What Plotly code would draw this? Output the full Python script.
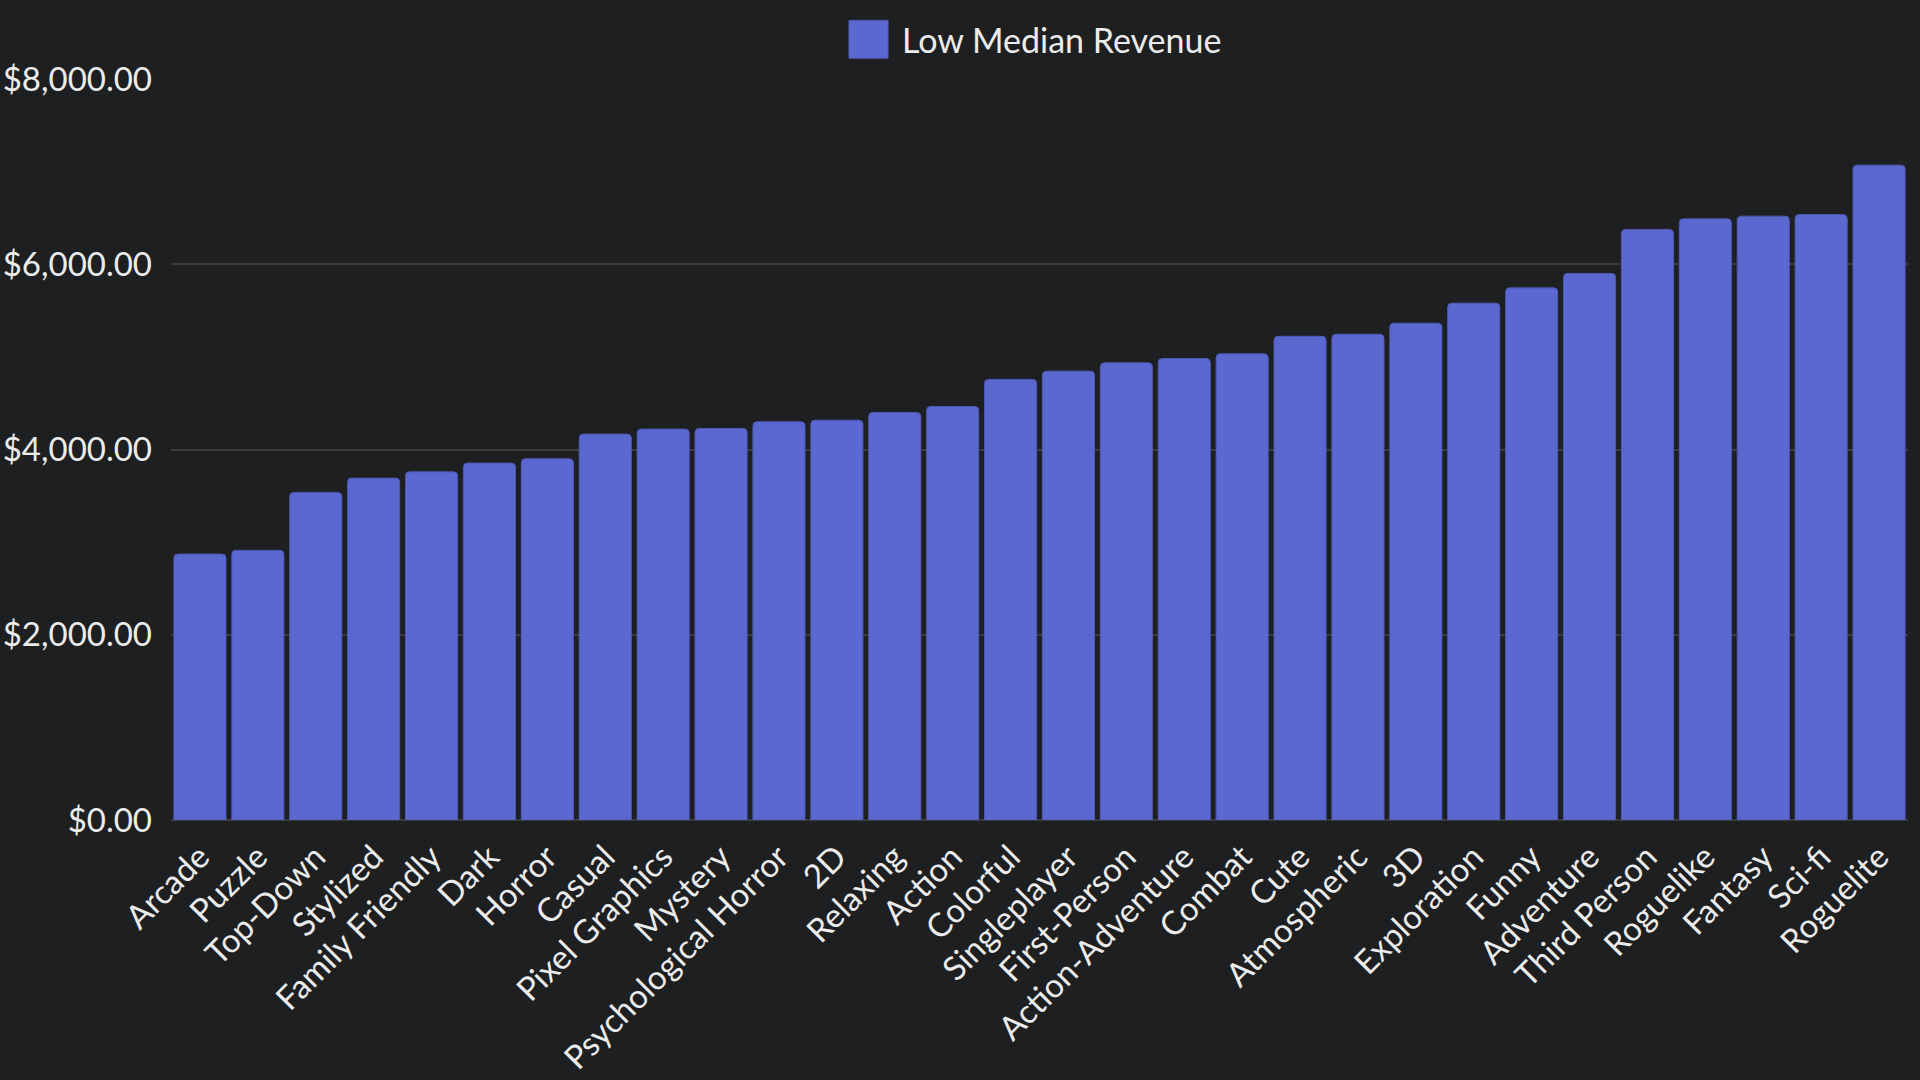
import plotly.graph_objects as go

# tags sorted by low median revenue
tags = ["Arcade", "Puzzle", "Top-Down", "Stylized", "Family Friendly", "Dark", "Horror",
        "Casual", "Pixel Graphics", "Mystery", "Psychological Horror", "2D", "Relaxing",
        "Action", "Colorful", "Singleplayer", "First-Person", "Action-Adventure", "Combat",
        "Cute", "Atmospheric", "3D", "Exploration", "Funny", "Adventure", "Third Person",
        "Roguelike", "Fantasy", "Sci-fi", "Roguelite"]
low_median_revenue = [2871, 2911, 3537, 3691, 3759, 3853, 3900,
                      4166, 4220, 4227, 4299, 4317, 4400,
                      4465, 4757, 4846, 4936, 4983, 5033,
                      5222, 5245, 5364, 5580, 5745, 5901, 6376,
                      6490, 6519, 6537, 7070]
series_name = "Low Median Revenue"

bg = "#1e1f21"
bar_col = "#5b68d0"
grid_col = "#3a3b3d"
txt = "#ececec"
font_family = "Lato, 'Noto Sans', sans-serif"

fig = go.Figure()
fig.add_trace(go.Bar(x=tags, y=low_median_revenue, name=series_name,
                     marker=dict(color=bar_col, line=dict(color="#4d58b4", width=1)),
                     showlegend=False))

# legend drawn by hand so the swatch can be big
fig.add_shape(type="rect", xref="paper", yref="paper",
              x0=0.3903, x1=0.4128, y0=1.0279, y1=1.0792,
              fillcolor=bar_col, line=dict(color="#4d58b4", width=1))
fig.add_annotation(text=series_name, xref="paper", yref="paper", x=0.4197, y=1.0536,
                   xanchor="left", yanchor="middle", showarrow=False,
                   font=dict(size=34, color=txt, family=font_family))

fig.update_layout(
    width=1920, height=1080,
    paper_bgcolor=bg, plot_bgcolor=bg,
    margin=dict(l=171, r=12, t=79, b=260),
    bargap=0.1, barcornerradius=4,
    font=dict(family=font_family, color=txt, size=32),
)
fig.update_xaxes(tickangle=-45, tickfont=dict(size=33), showgrid=False,
                 showline=False, ticks="", ticklabelstandoff=10, automargin=False)
fig.update_yaxes(range=[0, 8000], dtick=2000, tickprefix="$", tickformat=",.2f",
                 gridcolor=grid_col, gridwidth=1.5, zeroline=True, zerolinecolor=grid_col,
                 zerolinewidth=1.5, ticks="", ticklabelstandoff=18, automargin=False,
                 tickfont=dict(size=33))

fig.write_html("out.html", config={"displayModeBar": False},
               post_script="document.body.style.margin='0';")
